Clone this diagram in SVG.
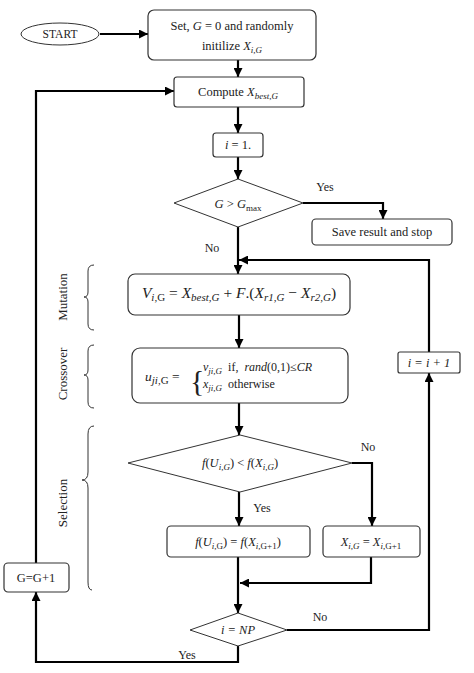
<svg xmlns="http://www.w3.org/2000/svg" width="474" height="673" viewBox="0 0 474 673">
<defs>
<marker id="ah" viewBox="0 0 10 10" refX="10" refY="5" markerWidth="9" markerHeight="9" markerUnits="userSpaceOnUse" orient="auto">
<path d="M0,0 L10,5 L0,10 z" fill="#000"/>
</marker>
<style>
.box{fill:#fff;stroke:#333;stroke-width:1.2}
.dm{fill:#fff;stroke:#333;stroke-width:1}
.c{fill:none;stroke:#000;stroke-width:2.2}
.cm{fill:none;stroke:#000;stroke-width:2.2;marker-end:url(#ah)}
.br{fill:none;stroke:#333;stroke-width:1}
text{font-family:"Liberation Serif","Times New Roman",serif;font-size:12.5px;fill:#222}
.m{font-style:italic}
.s{font-size:9px}
.mid{text-anchor:middle}
.lab{font-size:12px}
</style>
</defs>
<rect width="474" height="673" fill="#fff"/>

<g id="connectors">
<line class="cm" x1="100" y1="34" x2="148" y2="34"/>
<line class="cm" x1="238" y1="60" x2="238" y2="77"/>
<line class="cm" x1="238" y1="107" x2="238" y2="133"/>
<line class="cm" x1="238" y1="157" x2="238" y2="179"/>
<polyline class="cm" points="303,203 383,203 383,219"/>
<line class="cm" x1="238" y1="227" x2="238" y2="274"/>
<polyline class="cm" points="429,352 429,260 239,260"/>
<line class="cm" x1="239" y1="315" x2="239" y2="348"/>
<line class="cm" x1="239" y1="403" x2="239" y2="435"/>
<polyline class="cm" points="352,463 372,463 372,526"/>
<line class="cm" x1="239" y1="492" x2="239" y2="526"/>
<line class="cm" x1="238" y1="557" x2="238" y2="613"/>
<polyline class="cm" points="371,557 371,583 240,583"/>
<polyline class="cm" points="287,630 429,630 429,373"/>
<polyline class="cm" points="238,646 238,662 36,662 36,592"/>
<polyline class="cm" points="36,563 36,91 174,91"/>
</g>

<g id="labels">
<text class="lab mid" x="325" y="191">Yes</text>
<text class="lab mid" x="212" y="252">No</text>
<text class="lab mid" x="368" y="451">No</text>
<text class="lab mid" x="262" y="512">Yes</text>
<text class="lab mid" x="320" y="621">No</text>
<text class="lab mid" x="187" y="659">Yes</text>
</g>

<g id="start">
<ellipse cx="60" cy="34" rx="39" ry="11" fill="#fff" stroke="#333" stroke-width="1"/>
<text class="mid" x="60" y="38" style="font-size:11.5px">START</text>
</g>

<g id="init">
<rect class="box" x="148" y="10" width="168" height="50" rx="6"/>
<text class="mid" x="232" y="30">Set, <tspan class="m">G</tspan> = 0 and randomly</text>
<text class="mid" x="232" y="50">initilize <tspan class="m">X<tspan class="s" dy="3">i,G</tspan></tspan></text>
</g>

<g id="compute">
<rect class="box" x="174" y="77" width="130" height="30" rx="3"/>
<text class="mid" x="238" y="96">Compute <tspan class="m">X<tspan class="s" dy="3">best,G</tspan></tspan></text>
</g>

<g id="i1">
<rect class="box" x="213" y="133" width="50" height="24" rx="3"/>
<text class="mid" x="238" y="149"><tspan class="m">i</tspan> = 1.</text>
</g>

<g id="gmax">
<polygon class="dm" points="238,179 303,203 238,227 174,203"/>
<text class="mid" x="238" y="208"><tspan class="m">G</tspan> &gt; <tspan class="m">G</tspan><tspan class="s" dy="3">max</tspan></text>
</g>

<g id="save">
<rect class="box" x="312" y="219" width="140" height="26" rx="4"/>
<text class="mid" x="382" y="236">Save result and stop</text>
</g>

<g id="mutation">
<rect class="box" x="128" y="274" width="222" height="41" rx="7"/>
<text class="mid" x="239" y="298" style="font-size:15.5px"><tspan class="m">V</tspan><tspan class="s" dy="3" style="font-size:11px"><tspan class="m">i</tspan>,G</tspan><tspan dy="-3"> = </tspan><tspan class="m">X</tspan><tspan class="s m" dy="3" style="font-size:11px">best,G</tspan><tspan dy="-3"> + </tspan><tspan class="m">F</tspan>.(<tspan class="m">X</tspan><tspan class="s m" dy="3" style="font-size:11px">r1,G</tspan><tspan dy="-3"> − </tspan><tspan class="m">X</tspan><tspan class="s m" dy="3" style="font-size:11px">r2,G</tspan><tspan dy="-3">)</tspan></text>
</g>

<g id="crossover">
<rect class="box" x="132" y="348" width="216" height="55" rx="8"/>
<text x="145" y="381" style="font-size:13.5px"><tspan class="m">u</tspan><tspan class="m" dy="3" style="font-size:11px">ji</tspan><tspan style="font-size:11px">,G</tspan><tspan dy="-3"> =</tspan></text>
<text x="190" y="391" style="font-size:30px;font-weight:100">{</text>
<text x="203" y="371" style="font-size:12px;white-space:pre"><tspan class="m">v</tspan><tspan class="s m" dy="3">ji,G</tspan><tspan dy="-3">  if,  </tspan><tspan class="m">rand</tspan>(0,1)≤<tspan class="m">CR</tspan></text>
<text x="203" y="388" style="font-size:12px;white-space:pre"><tspan class="m">x</tspan><tspan class="s m" dy="3">ji,G</tspan><tspan dy="-3">  otherwise</tspan></text>
</g>

<g id="inc">
<rect class="box" x="398" y="352" width="62" height="21" rx="2"/>
<text class="mid m" x="429" y="367"><tspan>i</tspan> = <tspan>i</tspan> + 1</text>
</g>

<g id="selection">
<polygon class="dm" points="240,435 352,463 240,492 128,463"/>
<text class="mid" x="240" y="467"><tspan class="m">f</tspan>(<tspan class="m">U</tspan><tspan class="s m" dy="3">i,G</tspan><tspan dy="-3">) &lt; </tspan><tspan class="m">f</tspan>(<tspan class="m">X</tspan><tspan class="s m" dy="3">i,G</tspan><tspan dy="-3">)</tspan></text>
</g>

<g id="accept">
<rect class="box" x="167" y="526" width="143" height="31" rx="4"/>
<text class="mid" x="238" y="546"><tspan class="m">f</tspan>(<tspan class="m">U</tspan><tspan class="s" dy="3"><tspan class="m">i</tspan>,G</tspan><tspan dy="-3">) = </tspan><tspan class="m">f</tspan>(<tspan class="m">X</tspan><tspan class="s" dy="3"><tspan class="m">i</tspan>,G+1</tspan><tspan dy="-3">)</tspan></text>
</g>

<g id="reject">
<rect class="box" x="323" y="526" width="97" height="31" rx="4"/>
<text class="mid" x="371" y="546"><tspan class="m">X</tspan><tspan class="s m" dy="3">i,G</tspan><tspan dy="-3"> = </tspan><tspan class="m">X</tspan><tspan class="s" dy="3"><tspan class="m">i</tspan>,G+1</tspan></text>
</g>

<g id="np">
<polygon class="dm" points="238,613 287,630 238,646 190,630"/>
<text class="mid m" x="238" y="634">i = NP</text>
</g>

<g id="gen">
<rect class="box" x="4" y="563" width="65" height="29" rx="4"/>
<text class="mid" x="36" y="582">G=G+1</text>
</g>

<g id="phases">
<path class="br" d="M94,265 Q88,265 88,271 L88,292 Q88,297 84,297 Q88,297 88,302 L88,324 Q88,330 94,330"/>
<path class="br" d="M94,345 Q88,345 88,351 L88,370 Q88,375 84,375 Q88,375 88,380 L88,402 Q88,408 94,408"/>
<path class="br" d="M94,426 Q88,426 88,434 L88,472 Q88,480 82,480 Q88,480 88,488 L88,582 Q88,590 92,590"/>
<text class="mid" transform="translate(67,297) rotate(-90)" style="font-size:13px">Mutation</text>
<text class="mid" transform="translate(67,374) rotate(-90)" style="font-size:13px">Crossover</text>
<text class="mid" transform="translate(67,503) rotate(-90)" style="font-size:13px">Selection</text>
</g>
</svg>
